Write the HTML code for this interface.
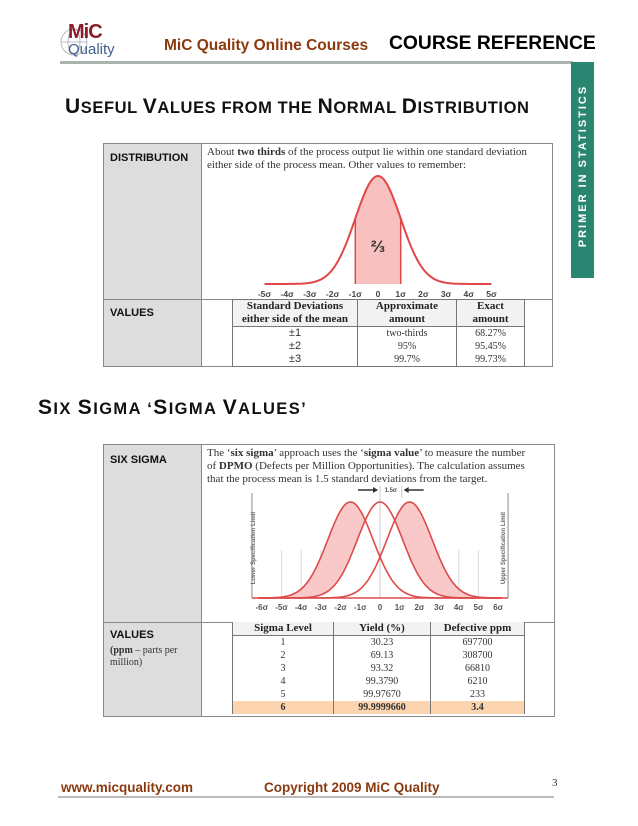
<!DOCTYPE html>
<html><head><meta charset="utf-8">
<style>
body{margin:0;width:638px;height:826px;background:#fff;position:relative;overflow:hidden;font-family:"Liberation Sans",sans-serif}
.a{position:absolute}
.serif{font-family:"Liberation Serif",serif;color:#333}
.sc{font-family:"Liberation Sans",sans-serif;font-weight:bold;color:#111;white-space:nowrap;letter-spacing:0.6px}
.lab{font-weight:bold;font-size:11px;color:#111}
table.it{border-collapse:collapse;font-family:"Liberation Serif",serif;font-size:10px;color:#333}
table.it td{border-left:1px solid #777;border-right:1px solid #777;text-align:center;padding:0;line-height:13px}
table.it th{border:1px solid #777;font-weight:bold;font-size:11px;line-height:13px;padding:0;background:#f2f2f2;color:#222}
</style></head><body>
<div class="a" style="left:60px;top:22px;width:50px;height:38px">
<svg width="50" height="38"><circle cx="14" cy="20" r="13" fill="none" stroke="#aab" stroke-width="0.8"/><line x1="1" y1="20" x2="27" y2="20" stroke="#aab" stroke-width="0.8"/><ellipse cx="14" cy="20" rx="6" ry="13" fill="none" stroke="#aab" stroke-width="0.8"/></svg>
<div class="a" style="left:8px;top:-1px;font-size:20px;font-weight:bold;color:#8c1c2c;letter-spacing:-1px">MiC</div>
<div class="a" style="left:8px;top:19px;font-size:15px;color:#3f5f8a">Quality</div>
</div>
<div class="a" style="left:164px;top:37px;font-size:15.5px;font-weight:bold;color:#8b3a0f">MiC Quality Online Courses</div>
<div class="a" style="left:389px;top:33px;font-size:19.3px;font-weight:bold;color:#000">COURSE REFERENCE</div>
<div class="a" style="left:60px;top:61px;width:513px;height:3px;background:#a9b4ad"></div>
<div class="a" style="left:571px;top:62px;width:23px;height:216px;background:#2a8670"><div class="a" style="left:-92px;top:98px;width:208px;transform:rotate(-90deg);color:#fff;font-size:11px;font-weight:bold;letter-spacing:2px;text-align:center">PRIMER IN STATISTICS</div></div>

<div class="a sc" style="left:65px;top:95px;font-size:16.5px"><span style="font-size:21px">U</span>SEFUL <span style="font-size:21px">V</span>ALUES FROM THE <span style="font-size:21px">N</span>ORMAL <span style="font-size:21px">D</span>ISTRIBUTION</div>

<div class="a" style="left:103px;top:143px;width:450px;height:224px;border:1px solid #888;box-sizing:border-box">
<div class="a" style="left:0;top:0;width:97px;height:222px;background:#ddd;border-right:1px solid #888"></div>
<div class="a" style="left:0;top:155px;width:448px;border-top:1px solid #888"></div>
<div class="a lab" style="left:6px;top:8px">DISTRIBUTION</div>
<div class="a lab" style="left:6px;top:163px">VALUES</div>
<div class="a serif" style="left:103px;top:2px;width:345px;font-size:11px;line-height:13px">About <b>two thirds</b> of the process output lie within one standard deviation either side of the process mean. Other values to remember:</div>
</div>
<svg class="a" style="left:0;top:0" width="638" height="826">
<g id="c1"></g><g id="c2"></g></svg>

<div class="a" style="left:232px;top:299px">
<table class="it" style="width:293px">
<tr><th style="width:124px">Standard Deviations<br>either side of the mean</th><th style="width:98px">Approximate<br>amount</th><th>Exact<br>amount</th></tr>
<tbody id="t1"></tbody></table></div>

<div class="a sc" style="left:38px;top:396px;font-size:16.5px;letter-spacing:1.4px"><span style="font-size:21px">S</span>IX <span style="font-size:21px">S</span>IGMA ‘<span style="font-size:21px">S</span>IGMA <span style="font-size:21px">V</span>ALUES’</div>

<div class="a" style="left:103px;top:444px;width:452px;height:273px;border:1px solid #888;box-sizing:border-box">
<div class="a" style="left:0;top:0;width:97px;height:271px;background:#ddd;border-right:1px solid #888"></div>
<div class="a" style="left:0;top:177px;width:450px;border-top:1px solid #888"></div>
<div class="a lab" style="left:6px;top:9px">SIX SIGMA</div>
<div class="a lab" style="left:6px;top:184px">VALUES</div>
<div class="a serif" style="left:6px;top:200px;font-size:10px;line-height:12px"><b>(ppm</b> – parts per<br>million)</div>
<div class="a serif" style="left:103px;top:2px;width:338px;font-size:11px;line-height:13px">The ‘<b>six sigma</b>’ approach uses the ‘<b>sigma value</b>’ to measure the number<br>of <b>DPMO</b> (Defects per Million Opportunities). The calculation assumes<br>that the process mean is 1.5 standard deviations from the target.</div>
</div>
<div class="a" style="left:232px;top:622px">
<table class="it" style="width:293px">
<tr><th style="width:100px;border-top:none">Sigma Level</th><th style="width:96px;border-top:none">Yield (%)</th><th style="border-top:none">Defective ppm</th></tr>
<tbody id="t2"></tbody></table></div>

<div class="a" style="left:61px;top:780px;font-size:13.5px;font-weight:bold;color:#8b3a0f">www.micquality.com</div>
<div class="a" style="left:264px;top:780px;font-size:13.5px;font-weight:bold;color:#8b3a0f">Copyright 2009 MiC Quality</div>
<div class="a serif" style="left:552px;top:777px;font-size:11px">3</div>
<div class="a" style="left:58px;top:796px;width:496px;height:2px;background:#bbb"></div>

<script>
const sdRows=["±1","±2","±3"];
const approx=["two-thirds","95%","99.7%"];
const exact=["68.27%","95.45%","99.73%"];
const sigmaLevels=["1","2","3","4","5","6"];
const yields=["30.23","69.13","93.32","99.3790","99.97670","99.9999660"];
const ppm=["697700","308700","66810","6210","233","3.4"];
const ticks1=["-5σ","-4σ","-3σ","-2σ","-1σ","0","1σ","2σ","3σ","4σ","5σ"];
const ticks2=["-6σ","-5σ","-4σ","-3σ","-2σ","-1σ","0","1σ","2σ","3σ","4σ","5σ","6σ"];
const shifts=[-1.5,0,1.5];
const NS="http://www.w3.org/2000/svg";
let t1=document.getElementById('t1');
sdRows.forEach((s,i)=>{const tr=document.createElement('tr');


tr.innerHTML=`<td style="font-family:'Liberation Sans';font-size:11px">${s}</td><td>${approx[i]}</td><td>${exact[i]}</td>`;
if(i==sdRows.length-1)tr.style.borderBottom='1px solid #777';t1.appendChild(tr);});
let t2=document.getElementById('t2');
sigmaLevels.forEach((s,i)=>{const tr=document.createElement('tr');


tr.innerHTML=`<td>${s}</td><td>${yields[i]}</td><td>${ppm[i]}</td>`;
if(i==5){tr.style.background='#fcd5b0';tr.style.fontWeight='bold';}
t2.appendChild(tr);});
function mk(g,tag,at){const e=document.createElementNS(NS,tag);for(const k in at)e.setAttribute(k,at[k]);g.appendChild(e);return e;}
const g1=document.getElementById('c1');
const x1=s=>378+s*22.7, y1=h=>284-h*108;
const pdf=z=>Math.exp(-z*z/2);
let d="";
for(let s=-5;s<=5.001;s+=0.05){d+=(d?"L":"M")+x1(s).toFixed(1)+","+y1(pdf(s)).toFixed(1);}
let f="M"+x1(-1)+","+y1(0);
for(let s=-1;s<=1.001;s+=0.05)f+="L"+x1(s).toFixed(1)+","+y1(pdf(s)).toFixed(1);
f+="L"+x1(1)+","+y1(0)+"Z";
let e=mk(g1,'path',{d:f,fill:'#f9c0c0'});


e=mk(g1,'path',{d:d,fill:'none',stroke:'#e04848','stroke-width':2});


[-1,1].forEach(s=>mk(g1,'line',{x1:x1(s),x2:x1(s),y1:y1(0),y2:y1(pdf(s)),stroke:'#e04848','stroke-width':1.5}));
e=mk(g1,'text',{x:378,y:252,'font-size':17,'font-weight':'bold','text-anchor':'middle',fill:'#333'});e.textContent='⅔';
ticks1.forEach((t,i)=>{const el=mk(g1,'text',{x:x1(i-5),y:297,'font-size':8.5,'font-weight':'bold','text-anchor':'middle',fill:'#444'});el.textContent=t;

});
const g2=document.getElementById('c2');
const x2=s=>380+s*19.7, y2=h=>598-h*96;
const cw=1.15;
for(let i=-5;i<=5;i++)mk(g2,'line',{x1:x2(i),x2:x2(i),y1:y2(0),y2:y2(0.5),stroke:'#ddd','stroke-width':1});
const cp=(m)=>{let p="";for(let s=-6.2;s<=6.21;s+=0.05)p+=(p?"L":"M")+x2(s).toFixed(1)+","+y2(pdf((s-m)/cw)).toFixed(1);return p;};
let env="M"+x2(-6.2)+","+y2(0);
for(let s=-6.2;s<=6.21;s+=0.05)env+="L"+x2(s).toFixed(1)+","+y2(Math.max(pdf((s-shifts[0])/cw),pdf((s-shifts[2])/cw))).toFixed(1);
env+="L"+x2(6.2)+","+y2(0)+"Z";
mk(g2,'path',{d:env,fill:'#f9c8c8'});
mk(g2,'path',{d:cp(shifts[1])+"L"+x2(6.2)+","+y2(0)+"L"+x2(-6.2)+","+y2(0)+"Z",fill:'#fff'});
mk(g2,'line',{x1:x2(0),x2:x2(0),y1:y2(0),y2:486,stroke:'#ccc'});
mk(g2,'line',{x1:x2(1.1),x2:x2(1.1),y1:486,y2:498,stroke:'#ccc'});
shifts.forEach(m=>{const el=mk(g2,'path',{d:cp(m),fill:'none',stroke:'#dd4b4b','stroke-width':1.6});

});
mk(g2,'line',{x1:x2(-6.5),x2:x2(6.5),y1:y2(0),y2:y2(0),stroke:'#dd4b4b','stroke-width':1.6});
[-6.5,6.5].forEach((s,i)=>{mk(g2,'line',{x1:x2(s),x2:x2(s),y1:y2(0),y2:493,stroke:'#888'});
const el=mk(g2,'text',{x:0,y:0,'font-size':6,'font-weight':'bold',fill:'#666','text-anchor':'middle',transform:`translate(${x2(s)+(i?-3:3)},548) rotate(-90)`});
el.textContent=i?'Upper Specification Limit':'Lower Specification Limit';});
mk(g2,'path',{d:`M${x2(0)-22},490L${x2(0)-3},490M${x2(1.1)+3},490L${x2(1.1)+22},490`,stroke:'#333','stroke-width':1.5});
mk(g2,'path',{d:`M${x2(0)-7},487L${x2(0)-2},490L${x2(0)-7},493Z`,fill:'#333'});
mk(g2,'path',{d:`M${x2(1.1)+7},487L${x2(1.1)+2},490L${x2(1.1)+7},493Z`,fill:'#333'});
e=mk(g2,'text',{x:x2(0.55),y:492,'font-size':6,'font-weight':'bold',fill:'#555','text-anchor':'middle'});e.textContent='1.5σ';
ticks2.forEach((t,i)=>{const el=mk(g2,'text',{x:x2(i-6),y:610,'font-size':8,'font-weight':'bold','text-anchor':'middle',fill:'#555'});el.textContent=t;

});
</script>
</body></html>
